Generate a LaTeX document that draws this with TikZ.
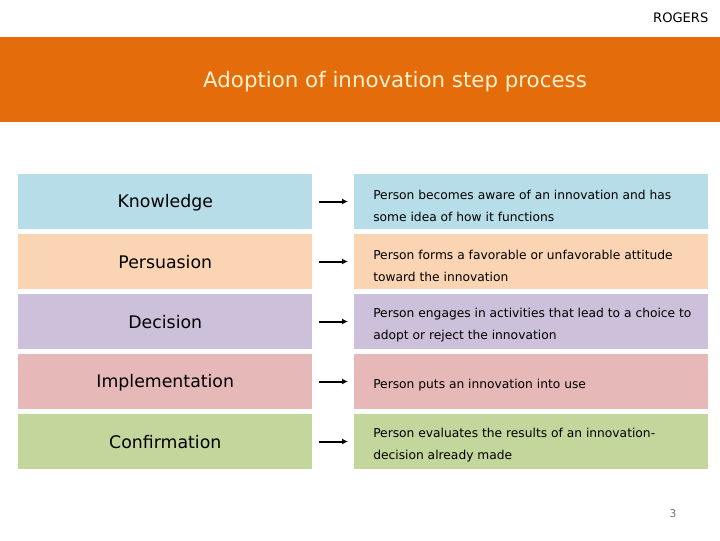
\documentclass[tikz,border=0pt]{standalone}
\usepackage{fontspec}
\setmainfont{DejaVu Sans}
\usetikzlibrary{arrows.meta}
\definecolor{bandorange}{HTML}{E46C0A}
\definecolor{titlecream}{HTML}{FFF2CC}
\definecolor{cblue}{HTML}{B7DDE8}
\definecolor{cpeach}{HTML}{FBD4B4}
\definecolor{clav}{HTML}{CCC0DA}
\definecolor{cgreen}{HTML}{C3D69B}
\definecolor{cpink}{HTML}{E6B9B8}
\newcommand{\topstrut}{\rule{0pt}{10.8pt}}
\tikzset{
  stagebox/.style={anchor=west, minimum width=220.5pt, minimum height=41.25pt, inner sep=0pt,
    font=\fontsize{13}{15}\selectfont, text=black},
  descbox/.style={anchor=west, minimum width=265.5pt, minimum height=41.25pt, inner sep=0pt},
  desctext/.style={anchor=west, inner sep=0pt, align=left, font=\fontsize{9.2}{16.5}\selectfont, text=black},
  linkarrow/.style={-{Latex[length=4.5pt,width=4.5pt]}, line width=1.5pt, shorten <=4.5pt, shorten >=4.5pt}
}
\begin{document}
\begin{tikzpicture}[x=0.75pt,y=-0.75pt]
\useasboundingbox (0,0) rectangle (720,540);
\fill[white] (0,0) rectangle (720,540);
\fill[bandorange] (0,37) rectangle (720,122);
\node[anchor=east, font=\fontsize{9.8}{11}\selectfont, text=black] (rog) at (713,18) {ROGERS};
\node[font=\fontsize{16}{18}\selectfont, text=titlecream] (title) at (395,82) {Adoption of innovation step process};
\foreach \n/\y/\c/\lab/\desc in {
  k/201.5/cblue/Knowledge/{Person becomes aware of an innovation and has\\some idea of how it functions},
  p/261.5/cpeach/Persuasion/{Person forms a favorable or unfavorable attitude\\toward the innovation},
  d/321.5/clav/Decision/{Person engages in activities that lead to a choice to\\adopt or reject the innovation},
  i/381.5/cpink/Implementation/{Person puts an innovation into use},
  c/441.5/cgreen/Confirmation/{Person evaluates the results of an innovation-\\decision already made}}{
  \node[stagebox, fill=\c] (\n) at (18,\y) {\rule{0pt}{11pt}\lab};
  \node[descbox, fill=\c] (\n d) at (354,\y) {};
  \node[desctext] (\n t) at (373,\y+1.5) {\topstrut\desc};
  \draw[linkarrow] (\n.east) -- (\n d.west);
}
\node[font=\fontsize{8}{10}\selectfont, text=black!55] (pg) at (673,514) {3};
\end{tikzpicture}
\end{document}
